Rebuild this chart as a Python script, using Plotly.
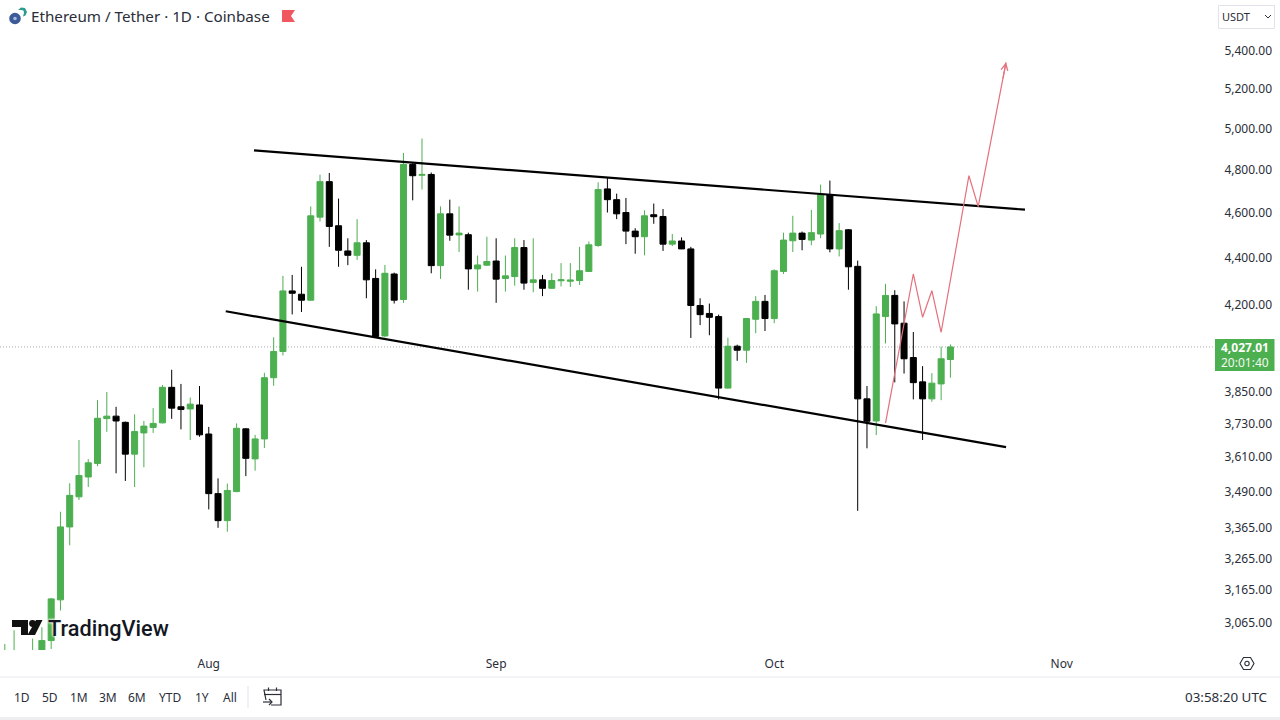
import numpy as np
import pandas as pd
import plotly.graph_objects as go

start_date = "2025-07-10"

opens = [2960,2965,2960,2945,2982,3010,3134,3369,3471,3540,3588,3751,3760,3737,3621,3698,3718,3735,3869,3795,3787,3802,
         3694,3482,3390,3489,3713,3604,3676,3906,4009,4257,4243,4218,4580,4744,4541,4429,4410,4465,4310,4071,4329,4221,4826,4774,4778,4365,4595,4500,4501,4351,4367,
         4385,4310,4318,4444,4293,4304,4268,4300,4298,4301,4340,4453,4710,4660,4601,4517,4492,4591,4583,4459,4473,4438,4196,4163,4150,3866,4030,4014,4139,4213,
         4142,4340,4474,4508,4477,4504,4684,4438,4523,4362,3825,3742,4150,4238,4123,3985,3890,3825,3882,3977]
highs = [3000,3041,2975,3016,3050,3140,3420,3518,3672,3603,3820,3851,3795,3740,3767,3742,3790,3878,3937,3882,3830,3874,
         3720,3535,3517,3733,3715,3691,3925,4066,4321,4325,4360,4629,4777,4785,4665,4485,4571,4477,4349,4368,4335,4881,4834,4951,4787,4629,4660,4629,4510,4409,4492,
         4485,4409,4485,4477,4485,4325,4332,4376,4376,4447,4471,4741,4761,4688,4668,4530,4611,4642,4617,4504,4489,4447,4226,4204,4158,4064,4036,4144,4235,4240,
         4349,4510,4586,4515,4613,4730,4749,4553,4526,4387,3874,4193,4287,4260,4213,4087,3951,3924,4028,4037]
lows = [2950,2955,2900,2935,2970,2985,3101,3308,3460,3505,3578,3702,3553,3526,3505,3574,3698,3733,3750,3711,3672,3684,
        3428,3366,3353,3487,3543,3562,3643,3875,3993,4159,4169,4216,4560,4447,4360,4367,4390,4226,4066,4066,4204,4207,4657,4707,4332,4308,4474,4424,4262,4254,4365,
        4207,4254,4279,4262,4251,4235,4266,4276,4274,4282,4338,4447,4601,4571,4459,4417,4410,4550,4429,4450,4437,4063,4115,4074,3823,3864,3972,3964,4082,4091,
        4123,4329,4424,4432,4454,4485,4423,4405,4262,3423,3642,3690,4041,3888,3922,3823,3672,3814,3820,3906]
closes = [2975,2978,2945,2970,3010,3137,3369,3476,3545,3590,3752,3760,3742,3621,3703,3723,3733,3869,3790,3785,3805,3691,
          3482,3390,3493,3715,3606,3676,3906,4009,4257,4247,4218,4586,4744,4538,4432,4410,4465,4304,4069,4332,4218,4826,4772,4778,4365,4595,4499,4508,4351,4368,4383,
          4307,4321,4444,4290,4304,4268,4301,4304,4303,4343,4456,4707,4660,4595,4517,4492,4586,4582,4459,4473,4438,4196,4158,4147,3866,4030,4014,4142,4213,4142,
          4343,4477,4508,4480,4510,4684,4438,4519,4360,3825,3741,4161,4238,4120,3980,3887,3825,3885,3980,4027.01]
dates = pd.date_range(start_date, periods=len(opens), freq="D")

upper_x = ["2025-08-05 21:00", "2025-10-28 01:00"]
upper_y = [4893, 4614]
lower_x = ["2025-08-02 20:00", "2025-10-26 00:00"]
lower_y = [4172, 3646]
path_x = ["2025-10-13", "2025-10-16", "2025-10-17", "2025-10-18", "2025-10-19", "2025-10-22", "2025-10-23", "2025-10-26"]
path_y = [3734, 4329, 4147, 4258, 4086, 4772, 4628, 5340]

price_ticks = [5400, 5200, 5000, 4800, 4600, 4400, 4200, 3850, 3730, 3610, 3490, 3365, 3265, 3165, 3065]
price_labels = [f"{v:,.2f}" for v in price_ticks]
month_ticks = ["2025-08-01", "2025-09-01", "2025-10-01", "2025-11-01"]
month_labels = ["Aug", "Sep", "Oct", "Nov"]
range_buttons = ["1D", "5D", "1M", "3M", "6M", "YTD", "1Y", "All"]
last_price = 4027.01

W, H, PLOT_W, PLOT_H = 1280, 720, 1216, 650
GREEN, BLACK, RED = "#4caf50", "#000000", "#e4707c"
TEXT = "#2a2e39"
FONT = "Noto Sans"


def X(p):
    return p / PLOT_W


def Y(p):
    return 1 - p / PLOT_H


def poly(points, close=True):
    s = "M" + " L".join(f"{X(a):.5f},{Y(b):.5f}" for a, b in points)
    return s + (" Z" if close else "")


def shape_path(points, fill=None, line=None, width=1, close=True):
    return dict(type="path", xref="paper", yref="paper", path=poly(points, close),
                fillcolor=fill or "rgba(0,0,0,0)",
                line=dict(color=line or "rgba(0,0,0,0)", width=width if line else 0))


def circle(cx, cy, r, fill=None, line=None, width=1):
    return dict(type="circle", xref="paper", yref="paper", x0=X(cx - r), x1=X(cx + r), y0=Y(cy + r), y1=Y(cy - r),
                fillcolor=fill or "rgba(0,0,0,0)",
                line=dict(color=line or "rgba(0,0,0,0)", width=width if line else 0))


def rect(x0, y0, x1, y1, fill=None, line=None, width=1):
    return dict(type="rect", xref="paper", yref="paper", x0=X(x0), x1=X(x1), y0=Y(y1), y1=Y(y0),
                fillcolor=fill or "rgba(0,0,0,0)",
                line=dict(color=line or "rgba(0,0,0,0)", width=width if line else 0))


def label(text, x, y, size=12, color=TEXT, anchor="center", family=FONT, **kw):
    return dict(text=text, xref="paper", yref="paper", x=X(x), y=Y(y), showarrow=False, xanchor=anchor, yanchor="middle",
                font=dict(size=size, color=color, family=family, **kw))


fig = go.Figure()
fig.add_trace(go.Candlestick(
    x=dates, open=opens, high=highs, low=lows, close=closes, whiskerwidth=0,
    increasing=dict(line=dict(color=GREEN, width=1), fillcolor=GREEN),
    decreasing=dict(line=dict(color=BLACK, width=1), fillcolor=BLACK),
    showlegend=False, name="ETHUSDT"))
for xs, ys in ((upper_x, upper_y), (lower_x, lower_y)):
    fig.add_trace(go.Scatter(x=xs, y=ys, mode="lines", line=dict(color=BLACK, width=2.2), showlegend=False, hoverinfo="skip"))
fig.add_trace(go.Scatter(x=path_x, y=path_y, mode="lines", line=dict(color=RED, width=1.2), showlegend=False, hoverinfo="skip"))

shapes = [
    dict(type="line", xref="paper", yref="y", x0=0, x1=1, y0=last_price, y1=last_price,
         line=dict(color="#a8abb4", width=1, dash="1px,2px"), layer="below"),
    # header icons
    circle(15, 18.5, 5.8, fill="#3d5a98"),
    circle(15, 18.5, 1.8, fill="#a9b8dc"),
    shape_path([(18, 10), (21, 7.5), (25, 8), (27, 12), (25.5, 15.5), (23, 16.5), (24, 13), (23.5, 10.5), (21, 10)], fill="#2b9c8e"),
    shape_path([(282, 10), (295, 10), (291, 16), (295, 22), (282, 22)], fill="#f0575f"),
    # USDT selector
    rect(1218.5, 5.5, 1274.5, 28.5, line="#e0e3eb"),
    shape_path([(1265, 15), (1268, 18), (1271, 15)], line=TEXT, width=1, close=False),
    # price tag
    rect(1215, 339, 1274.5, 371, fill=GREEN),
    # TradingView mark
    shape_path([(12, 620), (28, 620), (28, 635), (21, 635), (21, 627), (12, 627)], fill="#111111"),
    circle(32.5, 623.5, 3.4, fill="#111111"),
    shape_path([(36, 620), (42.5, 620), (35, 635), (27.5, 635)], fill="#111111"),
    # toolbar
    dict(type="line", xref="paper", yref="paper", x0=0, x1=X(W), y0=Y(677), y1=Y(677), line=dict(color="#e8e9ed", width=1)),
    rect(0, 717, W, 720, fill="#eeeef0"),
    dict(type="line", xref="paper", yref="paper", x0=X(248), x1=X(248), y0=Y(686), y1=Y(708), line=dict(color="#e0e3eb", width=1)),
    # calendar icon
    shape_path([(266, 700), (264, 690), (281, 690), (281, 705), (271, 705)], line="#2a2e39", width=1.2, close=False),
    dict(type="line", xref="paper", yref="paper", x0=X(264), x1=X(281), y0=Y(694.5), y1=Y(694.5), line=dict(color="#2a2e39", width=1.2)),
    dict(type="line", xref="paper", yref="paper", x0=X(268.5), x1=X(268.5), y0=Y(687.5), y1=Y(691), line=dict(color="#2a2e39", width=1.2)),
    dict(type="line", xref="paper", yref="paper", x0=X(276.5), x1=X(276.5), y0=Y(687.5), y1=Y(691), line=dict(color="#2a2e39", width=1.2)),
    shape_path([(263, 702), (272, 702)], line="#2a2e39", width=1.2, close=False),
    shape_path([(269, 699), (272, 702), (269, 705)], line="#2a2e39", width=1.2, close=False),
    # settings icon
    shape_path([(1240, 663.5), (1243.5, 657.5), (1250.5, 657.5), (1254, 663.5), (1250.5, 669.5), (1243.5, 669.5)], line="#2a2e39", width=1.1),
    circle(1247, 663.5, 2.2, line="#2a2e39", width=1.1),
]

button_x = [22, 50, 79, 108, 137, 170, 202, 230]
annotations = [
    label("Ethereum / Tether · 1D · Coinbase", 28.5, 16.5, size=15.2, anchor="left"),
    label("USDT", 1236, 16.5, size=11),
    label("<b>4,027.01</b>", 1244.5, 347.5, size=12, color="#ffffff"),
    label("20:01:40", 1244.5, 362.5, size=12, color="#f2f8f2"),
    label("TradingView", 46, 628.5, size=21.7, color="#131722", anchor="left", family="Roboto",
          weight=500, shadow="0 0 3px #ffffff, 0 0 3px #ffffff, 0 0 2px #ffffff"),
    label("03:58:20 UTC", 1270, 697, size=13.4, anchor="right"),
    dict(x=path_x[-1], y=float(np.log10(path_y[-1])), xref="x", yref="y", ax=-5, ay=26,
         showarrow=True, arrowhead=5, arrowsize=1.1, arrowwidth=1.2, arrowcolor=RED, standoff=0),
]
annotations += [label(t, x, 697, size=12) for t, x in zip(range_buttons, button_x)]

x0 = pd.Timestamp("2025-10-01") - pd.Timedelta(days=83.52)
x1 = pd.Timestamp("2025-10-01") + pd.Timedelta(days=47.65)

fig.update_layout(
    width=W, height=H, margin=dict(l=0, r=W - PLOT_W, t=0, b=H - PLOT_H, autoexpand=False),
    paper_bgcolor="#ffffff", plot_bgcolor="#ffffff", showlegend=False, boxgap=0.35, boxgroupgap=0,
    font=dict(family=FONT, color=TEXT, size=12),
    shapes=shapes, annotations=annotations,
    xaxis=dict(type="date", range=[x0, x1], rangeslider=dict(visible=False), showgrid=False, zeroline=False,
               showline=False, tickmode="array", tickvals=month_ticks, ticktext=month_labels,
               ticks="outside", ticklen=3, tickcolor="rgba(255,255,255,0)", tickfont=dict(size=12, color=TEXT, family=FONT)),
    yaxis=dict(type="log", side="right", range=[np.log10(2982), np.log10(5680)], showgrid=False, zeroline=False,
               showline=False, tickmode="array", tickvals=price_ticks, ticktext=price_labels,
               ticks="outside", ticklen=5, tickcolor="rgba(255,255,255,0)", tickfont=dict(size=12, color=TEXT, family=FONT)),
)

fig.write_html("out.html", config=dict(displayModeBar=False),
               post_script="document.body.style.margin='0';document.body.style.overflow='hidden';")
